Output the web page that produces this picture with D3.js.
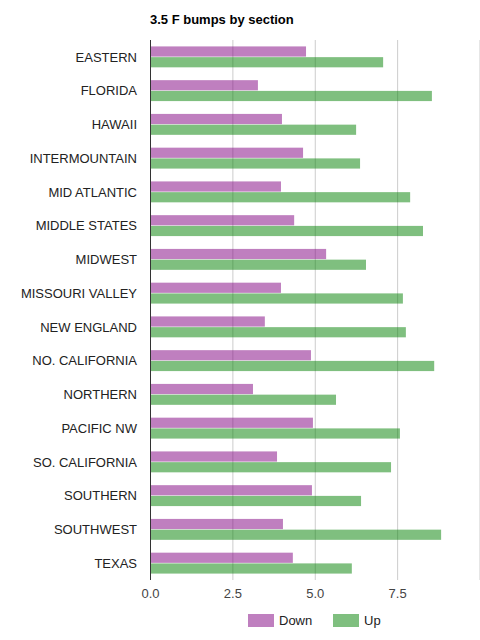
<!DOCTYPE html>
<html>
<head>
<meta charset="utf-8">
<script src="https://cdn.jsdelivr.net/npm/d3@7"></script>
<style>
  html, body { margin: 0; padding: 0; background: #fff; }
  svg { display: block; font-family: "Liberation Sans", Arial, sans-serif; }
</style>
</head>
<body>
<svg id="chart" width="480" height="640"></svg>
<script>
// Chart data
const sections = [
  "EASTERN", "FLORIDA", "HAWAII", "INTERMOUNTAIN", "MID ATLANTIC",
  "MIDDLE STATES", "MIDWEST", "MISSOURI VALLEY", "NEW ENGLAND",
  "NO. CALIFORNIA", "NORTHERN", "PACIFIC NW", "SO. CALIFORNIA",
  "SOUTHERN", "SOUTHWEST", "TEXAS"
];
const downValues = [4.72, 3.26, 3.99, 4.63, 3.96, 4.36, 5.33, 3.96, 3.47, 4.87, 3.11, 4.93, 3.84, 4.90, 4.02, 4.32];
const upValues   = [7.06, 8.54, 6.24, 6.36, 7.88, 8.27, 6.54, 7.66, 7.75, 8.61, 5.63, 7.57, 7.30, 6.39, 8.82, 6.11];
const seriesNames = ["Down", "Up"];
const xTicks = [0, 2.5, 5, 7.5, 10];

const colors = { Down: "#800080", Up: "#008000" };

const svg = d3.select("#chart");
const margin = { left: 150.5, right: 480, top: 40, bottom: 580 };

const x = d3.scaleLinear().domain([0, 10]).range([margin.left, margin.right]);

const y = d3.scaleBand()
  .domain(sections)
  .range([margin.top, margin.bottom])
  .paddingInner(0.38)
  .paddingOuter(0.19);

const ySub = d3.scaleBand()
  .domain(seriesNames)
  .range([0, y.bandwidth()])
  .paddingInner(0.05);

const rows = sections.map((s, i) => ({ section: s, Down: downValues[i], Up: upValues[i] }));

// Title
svg.append("text")
  .attr("x", 150)
  .attr("y", 24)
  .attr("font-size", 13)
  .attr("font-weight", "bold")
  .attr("fill", "#000")
  .text("3.5 F bumps by section");

// Gridlines
svg.append("g")
  .selectAll("line")
  .data(xTicks.filter(t => t > 0))
  .enter()
  .append("line")
  .attr("x1", d => x(d)).attr("x2", d => x(d))
  .attr("y1", margin.top).attr("y2", margin.bottom)
  .attr("stroke", "#cccccc")
  .attr("stroke-width", 1);

// Bars
const groups = svg.append("g")
  .selectAll("g")
  .data(rows)
  .enter()
  .append("g")
  .attr("transform", d => `translate(0,${y(d.section)})`);

groups.selectAll("rect")
  .data(d => seriesNames.map(k => ({ key: k, value: d[k] })))
  .enter()
  .append("rect")
  .attr("x", x(0))
  .attr("y", d => ySub(d.key))
  .attr("width", d => x(d.value) - x(0))
  .attr("height", ySub.bandwidth())
  .attr("fill", d => colors[d.key])
  .attr("fill-opacity", 0.5);

// Baseline axis
svg.append("line")
  .attr("x1", x(0)).attr("x2", x(0))
  .attr("y1", margin.top).attr("y2", margin.bottom)
  .attr("stroke", "#333333")
  .attr("stroke-width", 1);

// Category labels
svg.append("g")
  .selectAll("text")
  .data(sections)
  .enter()
  .append("text")
  .attr("x", 137)
  .attr("y", d => y(d) + y.bandwidth() / 2)
  .attr("dy", "0.36em")
  .attr("text-anchor", "end")
  .attr("font-size", 13)
  .attr("fill", "#222222")
  .text(d => d);

// X tick labels (last one falls off the edge)
svg.append("g")
  .selectAll("text")
  .data(xTicks.slice(0, -1))
  .enter()
  .append("text")
  .attr("x", d => x(d))
  .attr("y", 598)
  .attr("text-anchor", "middle")
  .attr("font-size", 13)
  .attr("fill", "#444444")
  .text(d => d3.format(".1f")(d));

// Legend
const legendX = [248, 333];
const legend = svg.append("g")
  .selectAll("g")
  .data(seriesNames)
  .enter()
  .append("g")
  .attr("transform", (d, i) => `translate(${legendX[i]},614)`);

legend.append("rect")
  .attr("width", 26)
  .attr("height", 13)
  .attr("fill", d => colors[d])
  .attr("fill-opacity", 0.5);

legend.append("text")
  .attr("x", 31)
  .attr("y", 6.5)
  .attr("dy", "0.36em")
  .attr("font-size", 13)
  .attr("fill", "#222222")
  .text(d => d);
</script>
</body>
</html>
